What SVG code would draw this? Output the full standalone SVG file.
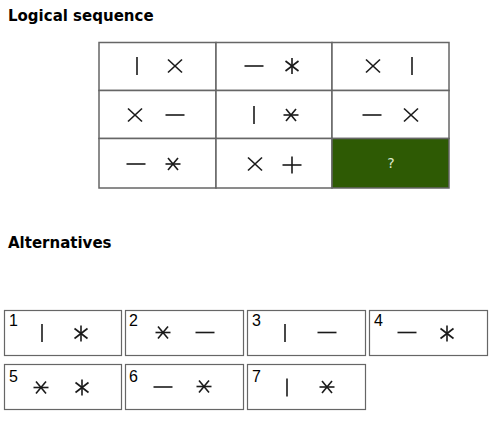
<svg xmlns="http://www.w3.org/2000/svg" xmlns:xlink="http://www.w3.org/1999/xlink" width="497" height="422" viewBox="0 0 497 422">
<style>
.title{font-family:"DejaVu Sans",Verdana,sans-serif;font-weight:bold;font-size:15px;fill:#000}
.num{font-family:"Liberation Sans",Arial,sans-serif;font-size:16px;fill:#000}
.q{font-family:"DejaVu Sans",Verdana,sans-serif;font-size:14px;fill:#dfe9cf;text-anchor:middle}
.cell{fill:#fff;stroke:#666;stroke-width:1.5}
.box{fill:#fff;stroke:#666;stroke-width:1.2}
.sym{stroke:#1a1a1a;stroke-width:1.6;fill:none;stroke-linecap:butt}
</style>
<defs>
<g id="V" class="sym"><line x1="0" y1="-9" x2="0" y2="9"/></g>
<g id="H" class="sym"><line x1="-9.5" y1="0" x2="9.5" y2="0"/></g>
<g id="X" class="sym"><line x1="-7" y1="-6.5" x2="7" y2="6.5"/><line x1="-7" y1="6.5" x2="7" y2="-6.5"/></g>
<g id="XV" class="sym"><line x1="0" y1="-8" x2="0" y2="8"/><line x1="-6.5" y1="-5" x2="6.5" y2="5"/><line x1="-6.5" y1="5" x2="6.5" y2="-5"/></g>
<g id="XH" class="sym"><line x1="-7.5" y1="0" x2="7.5" y2="0"/><line x1="-5" y1="-6" x2="5" y2="6"/><line x1="-5" y1="6" x2="5" y2="-6"/></g>
<g id="P" class="sym"><line x1="0" y1="-8.5" x2="0" y2="8.5"/><line x1="-9.5" y1="0" x2="9.5" y2="0"/></g>
</defs>
<rect width="497" height="422" fill="#fff"/>
<text class="title" x="8" y="21">Logical sequence</text>
<text class="title" x="8" y="248">Alternatives</text>

<g id="matrix">
<g id="cell-1-1"><rect class="cell" x="99" y="42.5" width="117" height="48"/><use href="#V" x="137" y="66"/><use href="#X" x="175" y="66"/></g>
<g id="cell-1-2"><rect class="cell" x="216" y="42.5" width="116" height="48"/><use href="#H" x="254" y="66"/><use href="#XV" x="292" y="66"/></g>
<g id="cell-1-3"><rect class="cell" x="332" y="42.5" width="117" height="48"/><use href="#X" x="373" y="66"/><use href="#V" x="412" y="66"/></g>
<g id="cell-2-1"><rect class="cell" x="99" y="90.5" width="117" height="48"/><use href="#X" x="135" y="115"/><use href="#H" x="175" y="115"/></g>
<g id="cell-2-2"><rect class="cell" x="216" y="90.5" width="116" height="48"/><use href="#V" x="254" y="115"/><use href="#XH" x="291" y="115"/></g>
<g id="cell-2-3"><rect class="cell" x="332" y="90.5" width="117" height="48"/><use href="#H" x="372" y="115"/><use href="#X" x="411" y="115"/></g>
<g id="cell-3-1"><rect class="cell" x="99" y="138.5" width="117" height="49.5"/><use href="#H" x="136" y="164"/><use href="#XH" x="173" y="164"/></g>
<g id="cell-3-2"><rect class="cell" x="216" y="138.5" width="116" height="49.5"/><use href="#X" x="255" y="164"/><use href="#P" x="292" y="165"/></g>
<g id="cell-3-3"><rect x="332" y="138.5" width="117" height="49.5" fill="#2e5a04" stroke="#666" stroke-width="1.5"/><text class="q" x="391" y="168">?</text></g>
</g>

<g id="alt-1"><rect class="box" x="4.5" y="310.5" width="117" height="45"/><text class="num" x="9" y="326">1</text><use href="#V" x="42" y="333"/><use href="#XV" x="81" y="333.5"/></g>
<g id="alt-2"><rect class="box" x="125.5" y="310.5" width="118" height="45"/><text class="num" x="129" y="326">2</text><use href="#XH" x="163" y="332.5"/><use href="#H" x="205" y="332.5"/></g>
<g id="alt-3"><rect class="box" x="247.5" y="310.5" width="118" height="45"/><text class="num" x="252" y="326">3</text><use href="#V" x="285" y="333"/><use href="#H" x="327" y="332.5"/></g>
<g id="alt-4"><rect class="box" x="369.5" y="310.5" width="118" height="45"/><text class="num" x="374" y="326">4</text><use href="#H" x="407" y="332.5"/><use href="#XV" x="447" y="333.5"/></g>
<g id="alt-5"><rect class="box" x="4.5" y="364.5" width="117" height="45"/><text class="num" x="9" y="381.5">5</text><use href="#XH" x="41" y="387.5"/><use href="#XV" x="82" y="387.5"/></g>
<g id="alt-6"><rect class="box" x="125.5" y="364.5" width="118" height="45"/><text class="num" x="129" y="381.5">6</text><use href="#H" x="163" y="387"/><use href="#XH" x="204" y="386.5"/></g>
<g id="alt-7"><rect class="box" x="247.5" y="364.5" width="118" height="45"/><text class="num" x="252" y="381.5">7</text><use href="#V" x="287" y="387.5"/><use href="#XH" x="327" y="387"/></g>
</svg>
